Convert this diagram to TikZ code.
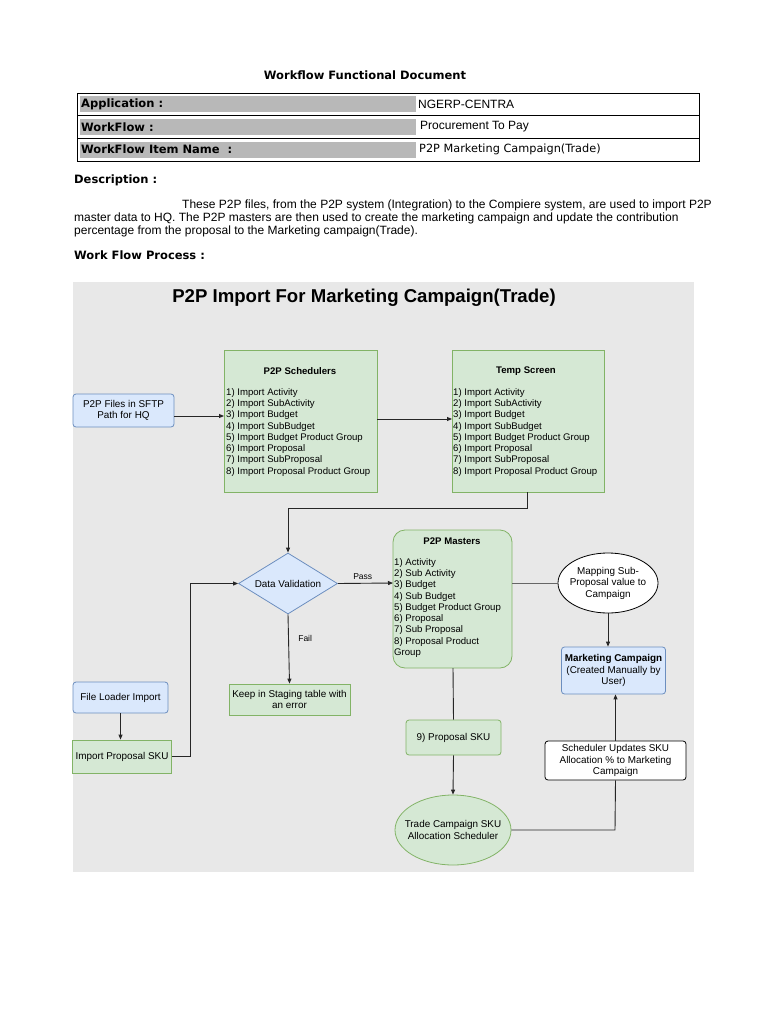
\documentclass[tikz,border=0pt]{standalone}
\usepackage{fontspec}
\setmainfont{Liberation Sans}
\newfontfamily\dv{DejaVu Sans}
\usetikzlibrary{shapes.geometric,arrows.meta}
\definecolor{gbg}{HTML}{E8E8E8}
\definecolor{gfill}{HTML}{D5E8D4}
\definecolor{gline}{HTML}{82B366}
\definecolor{bfill}{HTML}{DAE8FC}
\definecolor{bline}{HTML}{6C8EBF}
\tikzset{
  px/.style={x=1pt,y=-1pt},
  gbox/.style={draw=gline,fill=gfill,line width=0.8pt},
  bbox/.style={draw=bline,fill=bfill,line width=0.8pt,rounded corners=3pt},
  wbox/.style={draw=black,fill=white,line width=0.8pt,rounded corners=3pt},
  item/.style={font=\fontsize{9.6}{11.3}\selectfont,align=left,anchor=north west,inner sep=0pt},
  ctext/.style={font=\fontsize{9.9}{11.5}\selectfont,align=center},
  hb/.style={font=\dv\bfseries\fontsize{11.5}{13}\selectfont,anchor=west,inner sep=0pt},
  para/.style={font=\fontsize{12}{13}\selectfont,anchor=west,inner sep=0pt},
  conn/.style={draw=black!85,line width=0.9pt},
  arr/.style={conn,-{Triangle[length=5pt,width=4pt]}},
}
\begin{document}
\begin{tikzpicture}[px]
\useasboundingbox (0,0) rectangle (768,1024);
\fill[white] (0,0) rectangle (768,1024);
% header
\node[font=\dv\bfseries\fontsize{11.5}{13}\selectfont] (ttl) at (365,75) {Workflow Functional Document};
\draw[line width=0.8pt] (77,93) rectangle (699,161);
\draw[line width=0.6pt] (77,115.5) -- (699,115.5) (77,138.5) -- (699,138.5);
\fill[black!28] (80,96) rectangle (416,112);
\fill[black!28] (80,119) rectangle (416,135);
\fill[black!28] (80,142) rectangle (416,158);
\node[hb] (l1) at (81,104) {Application :};
\node[hb] (l2) at (81,127) {WorkFlow :};
\node[hb] (l3) at (81,149.5) {WorkFlow Item Name\ \ :};
\node[para] (v1) at (418,104) {NGERP-CENTRA};
\node[para] (v2) at (420,127) {Procurement To Pay};
\node[font=\dv\fontsize{11.3}{13}\selectfont,anchor=west,inner sep=0pt] (v3) at (419,149.5) {P2P Marketing Campaign(Trade)};
\node[hb] (desc) at (74,180) {Description :};
\node[para] (p1) at (182,205) {These P2P files, from the P2P system (Integration) to the Compiere system, are used to import P2P};
\node[para] (p2) at (74,218) {master data to HQ. The P2P masters are then used to create the marketing campaign and update the contribution};
\node[para] (p3) at (74,231) {percentage from the proposal to the Marketing campaign(Trade).};
\node[hb] (wfp) at (74,255) {Work Flow Process :};
% diagram background
\fill[gbg] (73,282) rectangle (694,872);
\node[font=\bfseries\fontsize{18.6}{21}\selectfont] (dt) at (364,298) {P2P Import For Marketing Campaign(Trade)};
% nodes
\node[bbox,minimum width=101pt,minimum height=33pt,ctext] (files) at (123.5,410.5) {P2P Files in SFTP\\Path for HQ};
\draw[gbox] (224,350) rectangle (377,492);
\coordinate (schw) at (224,416); \coordinate (sche) at (377,419);
\node[font=\bfseries\fontsize{9.6}{11}\selectfont] (scht) at (300,371) {P2P Schedulers};
\node[item] (schi) at (226,388) {1) Import Activity\\2) Import SubActivity\\3) Import Budget\\4) Import SubBudget\\5) Import Budget Product Group\\6) Import Proposal\\7) Import SubProposal\\8) Import Proposal Product Group};
\draw[gbox] (452,350) rectangle (604,492);
\coordinate (tmpw) at (452,419); \coordinate (tmps) at (527,492);
\node[font=\bfseries\fontsize{9.6}{11}\selectfont] (tmpt) at (526,371) {Temp Screen};
\node[item] (tmpi) at (453,388) {1) Import Activity\\2) Import SubActivity\\3) Import Budget\\4) Import SubBudget\\5) Import Budget Product Group\\6) Import Proposal\\7) Import SubProposal\\8) Import Proposal Product Group};
\node[diamond,draw=bline,fill=bfill,line width=0.8pt,minimum width=99pt,minimum height=61pt,inner sep=0pt,aspect=1.6,ctext] (dv) at (288,583.5) {Data Validation};
\draw[gbox,rounded corners=12pt] (393,530) rectangle (512,668);
\coordinate (mw) at (393,583); \coordinate (me) at (512,583); \coordinate (ms) at (453,668);
\node[font=\bfseries\fontsize{9.6}{11}\selectfont] (mt) at (452,541) {P2P Masters};
\node[item] (mi) at (394,558) {1) Activity\\2) Sub Activity\\3) Budget\\4) Sub Budget\\5) Budget Product Group\\6) Proposal\\7) Sub Proposal\\8) Proposal Product\\Group};
\node[gbox,minimum width=117pt,minimum height=31pt,ctext] (keep) at (289.5,699.5) {Keep in Staging table with\\an error};
\node[bbox,minimum width=95pt,minimum height=31pt,ctext] (fl) at (120.5,697.5) {File Loader Import};
\node[gbox,minimum width=98pt,minimum height=33pt,ctext] (ips) at (122,756.5) {Import Proposal SKU};
\node[gbox,rounded corners=3pt,minimum width=95pt,minimum height=35pt,ctext] (psku) at (453.5,737.5) {9) Proposal SKU};
\node[ellipse,draw=gline,fill=gfill,line width=0.8pt,minimum width=116pt,minimum height=70pt,inner sep=0pt] (tc) at (453,830) {};
\node[ctext] (tct) at (tc.center) {Trade Campaign SKU\\Allocation Scheduler};
\node[wbox,minimum width=141pt,minimum height=39pt,ctext] (su) at (615.5,760.5) {Scheduler Updates SKU\\Allocation \% to Marketing\\Campaign};
\node[bbox,minimum width=103pt,minimum height=47pt,ctext] (mc) at (613.5,670.5) {\textbf{Marketing Campaign}\\(Created Manually by\\User)};
\node[ellipse,draw=black,fill=white,line width=0.8pt,minimum width=100pt,minimum height=60pt,inner sep=0pt] (map) at (608,583) {};
\node[ctext] (mapt) at (map.center) {Mapping Sub-\\Proposal value to\\Campaign};
% connectors
\draw[arr] (files.east |- schw) -- (schw);
\draw[arr] (sche) -- (tmpw);
\draw[arr] (tmps) -- (527,508) -- (288,508) -- (dv.north);
\draw[arr] (dv.east) -- node[above,font=\fontsize{8.5}{9}\selectfont,pos=0.45] (pass) {Pass} (mw);
\draw[arr] (dv.south) -- node[right,font=\fontsize{8.5}{9}\selectfont,pos=0.35,xshift=6pt] (fail) {Fail} (keep.north);
\draw[arr] (fl.south) -- (fl.south |- ips.north);
\draw[arr] (ips.east) -- (190,756.5) -- (190,583.5) -- (dv.west);
\draw[conn,line width=0.5pt,draw=black!60] (me) -- (map.west);
\draw[arr] (map.south) -- (mc.north -| map.south);
\draw[conn] (ms) -- (psku.north);
\draw[arr] (psku.south) -- (tc.north);
\draw[conn] (tc.east) -- (615,830) -- (su.south);
\draw[arr] (su.north) -- (su.north |- mc.south);
\end{tikzpicture}
\end{document}
